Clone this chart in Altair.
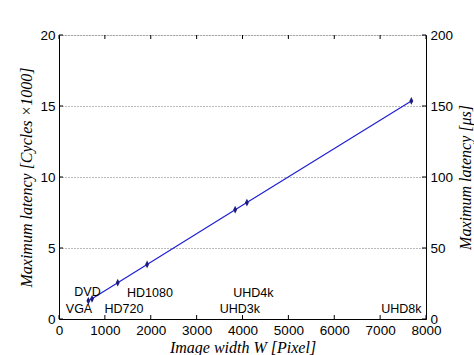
import altair as alt
import pandas as pd

# --- data ---
formats = ["VGA", "DVD", "HD720", "HD1080", "UHD3k", "UHD4k", "UHD8k"]
image_width = [640, 720, 1280, 1920, 3840, 4096, 7680]
latency_kcycles = [1.28, 1.42, 2.56, 3.84, 7.70, 8.20, 15.36]

# annotation anchors (data units)
label_x = [436, 621, 1416, 1983, 3943, 4237, 7462]
label_y = [0.70, 1.88, 0.70, 1.83, 0.70, 1.83, 0.70]

x_ticks = [0, 1000, 2000, 3000, 4000, 5000, 6000, 7000, 8000]
y_ticks = [0, 5, 10, 15, 20]
y2_ticks = [0, 50, 100, 150, 200]

W, H = 367, 284
LINE = "#1f1fd6"
MARK = "#1c1c80"
SERIF = "Liberation Serif"
SANS = "Liberation Sans"

df = pd.DataFrame({"fmt": formats, "w": image_width, "lat": latency_kcycles})
lab = pd.DataFrame({"fmt": formats, "lx": label_x, "ly": label_y})
xt = pd.DataFrame({"t": x_ticks})
yt = pd.DataFrame({"t": y_ticks})
y2t = pd.DataFrame({"t": y2_ticks})

xscale = alt.Scale(domain=[0, 8000], nice=False, zero=False)
yscale = alt.Scale(domain=[0, 20], nice=False)
y2scale = alt.Scale(domain=[0, 200], nice=False)

x_axis = alt.Axis(values=x_ticks, format="d", tickSize=0, labelFontSize=13.5, labelFont=SANS,
                  labelColor="black", labelPadding=4, labelFlush=False,
                  title="Image width W [Pixel]", titleFont=SERIF, titleFontStyle="italic",
                  titleFontWeight="normal", titleFontSize=16, titlePadding=3, titleColor="black",
                  domainColor="black", grid=False)
y_axis = alt.Axis(values=y_ticks, tickSize=0, labelFontSize=13.5, labelFont=SANS,
                  labelColor="black", labelPadding=4, labelFlush=False,
                  title="Maximum latency [Cycles \u00d71000]", titleFont=SERIF,
                  titleFontStyle="italic", titleFontWeight="normal", titleFontSize=16,
                  titlePadding=5, titleColor="black", domainColor="black",
                  grid=True, gridDash=[1, 2], gridColor="#777777", gridWidth=1)
y2_axis = alt.Axis(values=y2_ticks, orient="right", tickSize=0, labelFontSize=13.5, labelFont=SANS,
                   labelColor="black", labelPadding=4, labelFlush=False,
                   title="Maximum latency [\u03bcs]", titleFont=SERIF, titleFontStyle="italic",
                   titleFontWeight="normal", titleFontSize=16, titlePadding=5, titleColor="black",
                   titleAngle=270, titleBaseline="top",
                   domainColor="black", grid=False)

line = alt.Chart(df).mark_line(color=LINE, strokeWidth=1.2).encode(
    x=alt.X("w:Q", scale=xscale, axis=x_axis),
    y=alt.Y("lat:Q", scale=yscale, axis=y_axis),
)
pts = alt.Chart(df).mark_point(
    shape="M0,-1L0.5,0L0,1L-0.5,0Z", filled=True, size=60, color=MARK, opacity=1
).encode(
    x=alt.X("w:Q", scale=xscale),
    y=alt.Y("lat:Q", scale=yscale),
)
labels = alt.Chart(lab).mark_text(font=SANS, fontSize=12.5, color="black",
                                  align="center", baseline="middle").encode(
    x=alt.X("lx:Q", scale=xscale),
    y=alt.Y("ly:Q", scale=yscale),
    text="fmt:N",
)
# inward ticks
tick_bottom = alt.Chart(xt).mark_rule(color="black").encode(
    x=alt.X("t:Q", scale=xscale), y=alt.value(H), y2=alt.value(H - 4))
tick_top = alt.Chart(xt).mark_rule(color="black").encode(
    x=alt.X("t:Q", scale=xscale), y=alt.value(0), y2=alt.value(4))
tick_left = alt.Chart(yt).mark_rule(color="black").encode(
    y=alt.Y("t:Q", scale=yscale), x=alt.value(0), x2=alt.value(4))
tick_right = alt.Chart(yt).mark_rule(color="black").encode(
    y=alt.Y("t:Q", scale=yscale), x=alt.value(W - 4), x2=alt.value(W))

left = alt.layer(line, pts, labels, tick_bottom, tick_top, tick_left, tick_right)

right = alt.Chart(y2t).mark_point(opacity=0).encode(
    x=alt.X("t:Q", scale=xscale),
    y=alt.Y("t:Q", scale=y2scale, axis=y2_axis),
)

chart = alt.layer(left, right).resolve_scale(y="independent").properties(
    width=W, height=H,
    autosize=alt.AutoSizeParams(type="none"),
    padding={"left": 59, "top": 35, "right": 48, "bottom": 36},
).configure_view(stroke="black", strokeWidth=1).configure(background="white")

chart.save("out.html", embed_options={"renderer": "svg", "actions": False})
